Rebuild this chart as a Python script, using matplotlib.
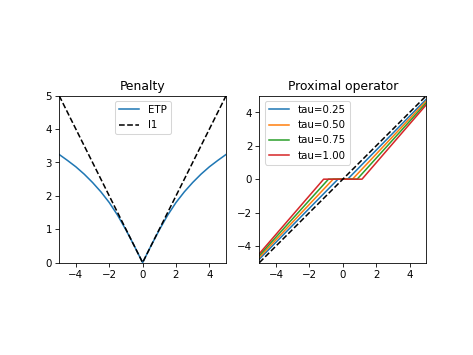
import numpy as np
import matplotlib
matplotlib.use("Agg")
import matplotlib.pyplot as plt

# Penalty panel data
x_pen = [-5.0, -4.5, -4.0, -3.5, -3.0, -2.5, -2.0, -1.5, -1.0, -0.5, 0.0,
         0.5, 1.0, 1.5, 2.0, 2.5, 3.0, 3.5, 4.0, 4.5, 5.0]
etp_vals = [3.24, 3.06, 2.87, 2.65, 2.40, 2.12, 1.80, 1.42, 0.98, 0.50, 0.0,
            0.50, 0.98, 1.42, 1.80, 2.12, 2.40, 2.65, 2.87, 3.06, 3.24]
l1_x = [-5.0, 0.0, 5.0]
l1_vals = [5.0, 0.0, 5.0]

# Proximal operator panel data
taus = [0.25, 0.50, 0.75, 1.00]
thresholds = [0.29, 0.58, 0.86, 1.15]
end_vals = [4.79, 4.68, 4.57, 4.46]
x_lim = 5.0
id_x = [-5.0, 5.0]
id_y = [-5.0, 5.0]

fig = plt.figure(figsize=(6.4, 4.8), dpi=74)
ax1 = fig.add_subplot(1, 2, 1)
ax2 = fig.add_subplot(1, 2, 2)

ax1.plot(x_pen, etp_vals, label="ETP")
ax1.plot(l1_x, l1_vals, "k--", label="l1")
ax1.set_xlim(-5, 5)
ax1.set_ylim(0, 5)
ax1.set_title("Penalty")
ax1.legend(loc="upper center")
ax1.set_box_aspect(1)

for tau, t, e in zip(taus, thresholds, end_vals):
    xs = [-x_lim, -t, t, x_lim]
    ys = [-e, 0.0, 0.0, e]
    ax2.plot(xs, ys, label=f"tau={tau:.2f}")
ax2.plot(id_x, id_y, "k--")
ax2.set_xlim(-5, 5)
ax2.set_ylim(-5, 5)
ax2.set_yticks([-4, -2, 0, 2, 4])
ax2.set_title("Proximal operator")
ax2.legend(loc="upper left")
ax2.set_box_aspect(1)

fig.savefig("out.png", dpi=74)
